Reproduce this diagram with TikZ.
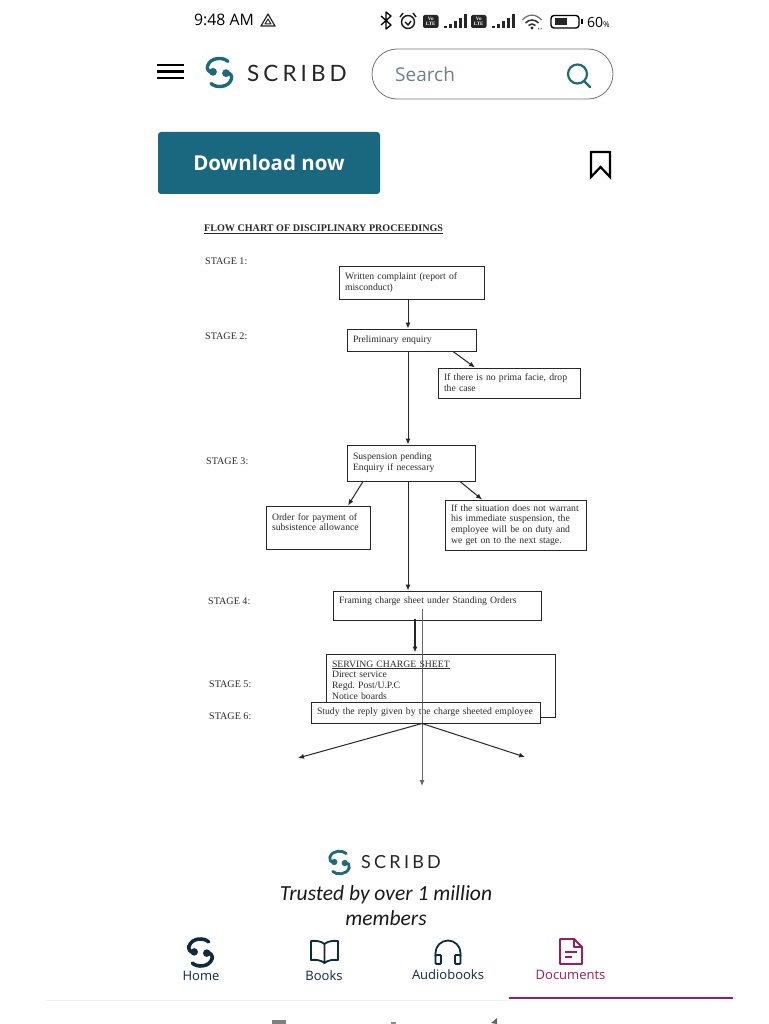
\documentclass[tikz,border=0pt]{standalone}
\usepackage{fontspec}
\setmainfont{Liberation Serif}
\newfontfamily\uifont{Open Sans}
\newfontfamily\logofont[LetterSpace=18]{Lato}
\newfontfamily\quotefont{Carlito}
\usetikzlibrary{arrows.meta,positioning,calc}
\definecolor{scribdteal}{HTML}{1E6A78}
\definecolor{btnteal}{HTML}{1A6880}
\definecolor{navdark}{HTML}{0F2A3C}
\definecolor{docred}{HTML}{9E1C5C}
\definecolor{doctext}{HTML}{2A2A2A}
\definecolor{hintgray}{HTML}{6F8088}
\frenchspacing

\begin{document}
\begin{tikzpicture}[x=1pt, y=-1pt, >={Latex[length=6pt,width=5pt]},
  stn/.style={draw=black!85, line width=1pt, fill=white, align=left, inner xsep=6pt, inner ysep=0pt,
    text=doctext, font=\fontsize{9.7}{10.8}\selectfont},
  stagelbl/.style={anchor=west, inner sep=0pt, text=doctext, font=\fontsize{10.1}{11}\selectfont},
  uitxt/.style={inner sep=0pt, font=\uifont\fontsize{13}{15}\selectfont},
  conn/.style={->, line width=1pt, black!85},
  icon/.style={line width=1.8pt, navdark},
  logo/.pic={
    \draw[line width=#1, line cap=round] (0.65,-0.85) .. controls (0.3,-1.2) and (-0.7,-1.2) .. (-0.92,-0.5)
      .. controls (-0.98,-0.25) and (-0.85,-0.05) .. (-0.55,0);
    \draw[line width=#1, line cap=round] (-0.65,0.85) .. controls (-0.3,1.2) and (0.7,1.2) .. (0.92,0.5)
      .. controls (0.98,0.25) and (0.85,0.05) .. (0.55,0);
    \fill (-0.5,-0.05) circle (0.3);
    \fill (0.5,0.05) circle (0.3);
  }]
\useasboundingbox[fill=white] (0,0) rectangle (768,1024);

% status bar
\node[uitxt, anchor=west, font=\uifont\fontsize{15.8}{17}\selectfont] (clock) at (194,20) {9:48 AM};
\draw[line width=1.2pt, line join=round, black!85] (268,14) -- (275,26) -- (261,26) -- cycle;
\draw[line width=1pt, line join=round, black!85] (268,19) -- (271,24) -- (265,24) -- cycle;
\draw[line width=1.3pt, line join=round, black] (381,16) -- (391,25) -- (386,29) -- (386,12) -- (391,16) -- (381,25);
\draw[line width=1.4pt, black!90] (408,22) circle (6.5);
\draw[line width=1.4pt, black!90] (405,22) -- (408,25) -- (411,21);
\draw[line width=1.4pt, black!90] (400,17) -- (403,13) (416,17) -- (413,13);
\foreach \vx/\sx in {423/444, 471/492} {
  \fill[black!85, rounded corners=2pt] (\vx,15) rectangle ++(15.5,13);
  \node[inner sep=0pt, white, align=center, font=\bfseries\fontsize{5}{5.5}\selectfont] at (\vx+7.75,21.5) {Vo\\LTE};
  \foreach \bx/\by in {0/26, 5/24, 10/21, 15/18, 20/14}
    \fill[black!85] (\sx+\bx,\by) rectangle (\sx+\bx+2.6,28);
}
\draw[line width=1.3pt, black!55] (522.5,20) .. controls (528,13.5) and (536,13.5) .. (541.5,20);
\draw[line width=1.5pt, black!80] (525.5,23) .. controls (529,19) and (535,19) .. (538.5,23);
\draw[line width=1.5pt, black!80] (528.5,25.5) .. controls (530.5,23.5) and (533.5,23.5) .. (535.5,25.5);
\fill[black!85] (532,28) circle (1.6);
\fill[black!70] (538,28) rectangle (539,29.5) (540.5,28) rectangle (541.5,29.5);
\draw[line width=1.4pt, black, rounded corners=3pt] (551,15.5) rectangle (579,28);
\fill[black!85] (555,18.5) rectangle (567,25);
\fill[black] (581,19.5) rectangle (582.5,24);
\node[uitxt, anchor=west, font=\uifont\fontsize{14}{16}\selectfont] (battery) at (587,22.5) {60{\fontsize{8}{8}\selectfont\%}};

% header
\foreach \hy in {65,71.5,78}
  \draw[line width=2.4pt, black] (157,\hy) -- (184,\hy);
\pic[scribdteal, scale=13] at (219.5,72.5) {logo=3.4pt};
\node[inner sep=0pt, anchor=west, text=black!85, font=\logofont\fontsize{22.5}{24}\selectfont] (brand) at (247,73) {SCRIBD};
\node[draw=black!55, line width=0.8pt, rounded corners=25pt, minimum width=241pt, minimum height=50pt] (searchbox) at (492.5,74) {};
\node[uitxt, anchor=west, text=hintgray, font=\uifont\fontsize{19}{20}\selectfont] (searchtxt) at (395,74) {Search};
\draw[line width=2.2pt, scribdteal] (577.5,74) circle (9.5);
\draw[line width=2.2pt, scribdteal, line cap=round] (584,81) -- (590,87);
\node[fill=btnteal, rounded corners=3pt, minimum width=222pt, minimum height=62pt, inner sep=0pt, text=white,
  font=\uifont\fontsize{20.5}{22}\selectfont\bfseries] (download) at (269,163) {Download now};
\draw[line width=2.2pt, line join=miter, black] (591,152) -- (610,152) -- (610,177) -- (600.5,167) -- (591,177) -- cycle;

% flow chart
\node[inner sep=0pt, anchor=west, text=doctext, font=\bfseries\fontsize{10.1}{11}\selectfont] (title) at (204,229) {\underline{FLOW CHART OF DISCIPLINARY PROCEEDINGS}};
\node[stagelbl] (st1) at (205,261) {STAGE 1:};
\node[stagelbl] (st2) at (205,336) {STAGE 2:};
\node[stagelbl] (st3) at (206,461.5) {STAGE 3:};
\node[stagelbl] (st4) at (208,601) {STAGE 4:};
\node[stagelbl] (st5) at (209,684) {STAGE 5:};
\node[stagelbl] (st6) at (209,716) {STAGE 6:};

\node[stn, text width=133pt, minimum height=33pt] (complaint) at (411.5,282.5) {Written complaint (report of\\ misconduct)\\[1pt]};
\node[stn, text width=117pt, minimum height=22pt] (prelim) at (411.5,340) {Preliminary enquiry};
\node[stn, text width=130pt, minimum height=30pt] (noprima) at (509,383) {If there is no prima facie, drop\\ the case};
\node[stn, text width=116pt, minimum height=36pt] (susp) at (411,463) {Suspension pending\\ Enquiry if necessary\\[6pt]};
\node[stn, text width=92pt, minimum height=43pt] (order) at (318,527.5) {Order for payment of\\ subsistence allowance\\ ~};
\node[stn, text width=129pt, minimum height=50pt] (situation) at (515.5,525) {If the situation does not warrant\\ his immediate suspension, the\\ employee will be on duty and\\ we get on to the next stage.};
\node[stn, text width=196pt, minimum height=29pt] (framing) at (437,605.5) {Framing charge sheet under Standing Orders\\ ~};
\node[stn, text width=217pt, minimum height=63pt] (serving) at (440.5,685.5) {\underline{SERVING CHARGE SHEET}\\ Direct service\\ Regd. Post/U.P.C\\ Notice boards\\ ~};
\node[stn, text width=217pt, minimum height=21pt] (reply) at (425.5,712.5) {Study the reply given by the charge sheeted employee};

\coordinate (fan) at ($(reply.south)+(-3.5,0)$);
\coordinate (fanleft) at (298,758);
\coordinate (fanright) at (525,757);
\coordinate (fandown) at (422,786);

\draw[conn] ($(complaint.south)+(-3.5,0)$) -- ($(prelim.north)+(-3.5,0)$);
\draw[conn] ($(prelim.south)+(41.5,0)$) -- ($(noprima.north)+(-34,0)$);
\draw[conn] ($(prelim.south)+(-3.5,0)$) -- ($(susp.north)+(-3,0)$);
\draw[conn] ($(susp.south)+(-48,0)$) -- ($(order.north)+(30,0)$);
\draw[conn] ($(susp.south)+(49,0)$) -- ($(situation.north)+(-33.5,0)$);
\draw[conn] ($(susp.south)+(-3,0)$) -- ($(framing.north)+(-29,0)$);
\draw[conn, line width=1.3pt] ($(framing.south)+(-22,-2)$) -- ($(serving.north)+(-25.5,-1)$);
\draw[->, line width=0.9pt, black!60] ($(framing.south)+(-15,-12)$) -- (fandown);
\draw[conn] (fan) -- (fanleft);
\draw[conn] (fan) -- (fanright);

% footer
\pic[scribdteal, scale=10.5] at (339.5,862.5) {logo=2.8pt};
\node[inner sep=0pt, anchor=west, text=black!85, font=\logofont\fontsize{18}{19}\selectfont] (brandfoot) at (361,862) {SCRIBD};
\node[inner sep=0pt, align=center, text=black!90, font=\quotefont\itshape\fontsize{21.5}{25}\selectfont] (trust) at (386,905.5) {Trusted by over 1 million\\ members};

\pic[navdark, scale=12.5] at (200.5,952.5) {logo=3.6pt};
\node[uitxt, text=navdark] (home) at (201,976) {Home};
\draw[icon, line join=round] (324.5,944) .. controls (321,941) and (316,940.5) .. (311,941) -- (311,960) .. controls (316,959.5) and (321,960) .. (324.5,963)
  .. controls (328,960) and (333,959.5) .. (338,960) -- (338,941) .. controls (333,940.5) and (328,941) .. (324.5,944) -- cycle (324.5,944) -- (324.5,963);
\node[uitxt, text=navdark] (books) at (324,975.5) {Books};
\draw[icon] (435.5,956) -- (435.5,953) arc[start angle=180, end angle=360, radius=12.5] -- (460.5,956);
\draw[icon, rounded corners=1pt] (435.5,955) rectangle (441,964) (455,955) rectangle (460.5,964);
\node[uitxt, text=navdark] (audio) at (448,974.5) {Audiobooks};
\draw[line width=1.8pt, docred, line join=round] (560,939) -- (574,939) -- (582,947) -- (582,964) -- (560,964) -- cycle (574,939) -- (574,947) -- (582,947);
\draw[line width=1.5pt, docred] (565,952) -- (577,952) (565,957) -- (572,957);
\node[uitxt, text=docred] (docs) at (570.5,974.5) {Documents};
\draw[line width=0.8pt, black!6] (45,1000.5) -- (509,1000.5);
\draw[line width=2pt, docred] (509,997.5) -- (733,997.5);

% system navigation stubs
\fill[black!50] (272,1020) rectangle (286,1024);
\fill[black!45] (391,1022) rectangle (396,1024);
\fill[black!60] (491,1023) -- (497,1018) -- (497,1024) -- cycle;
\end{tikzpicture}
\end{document}
